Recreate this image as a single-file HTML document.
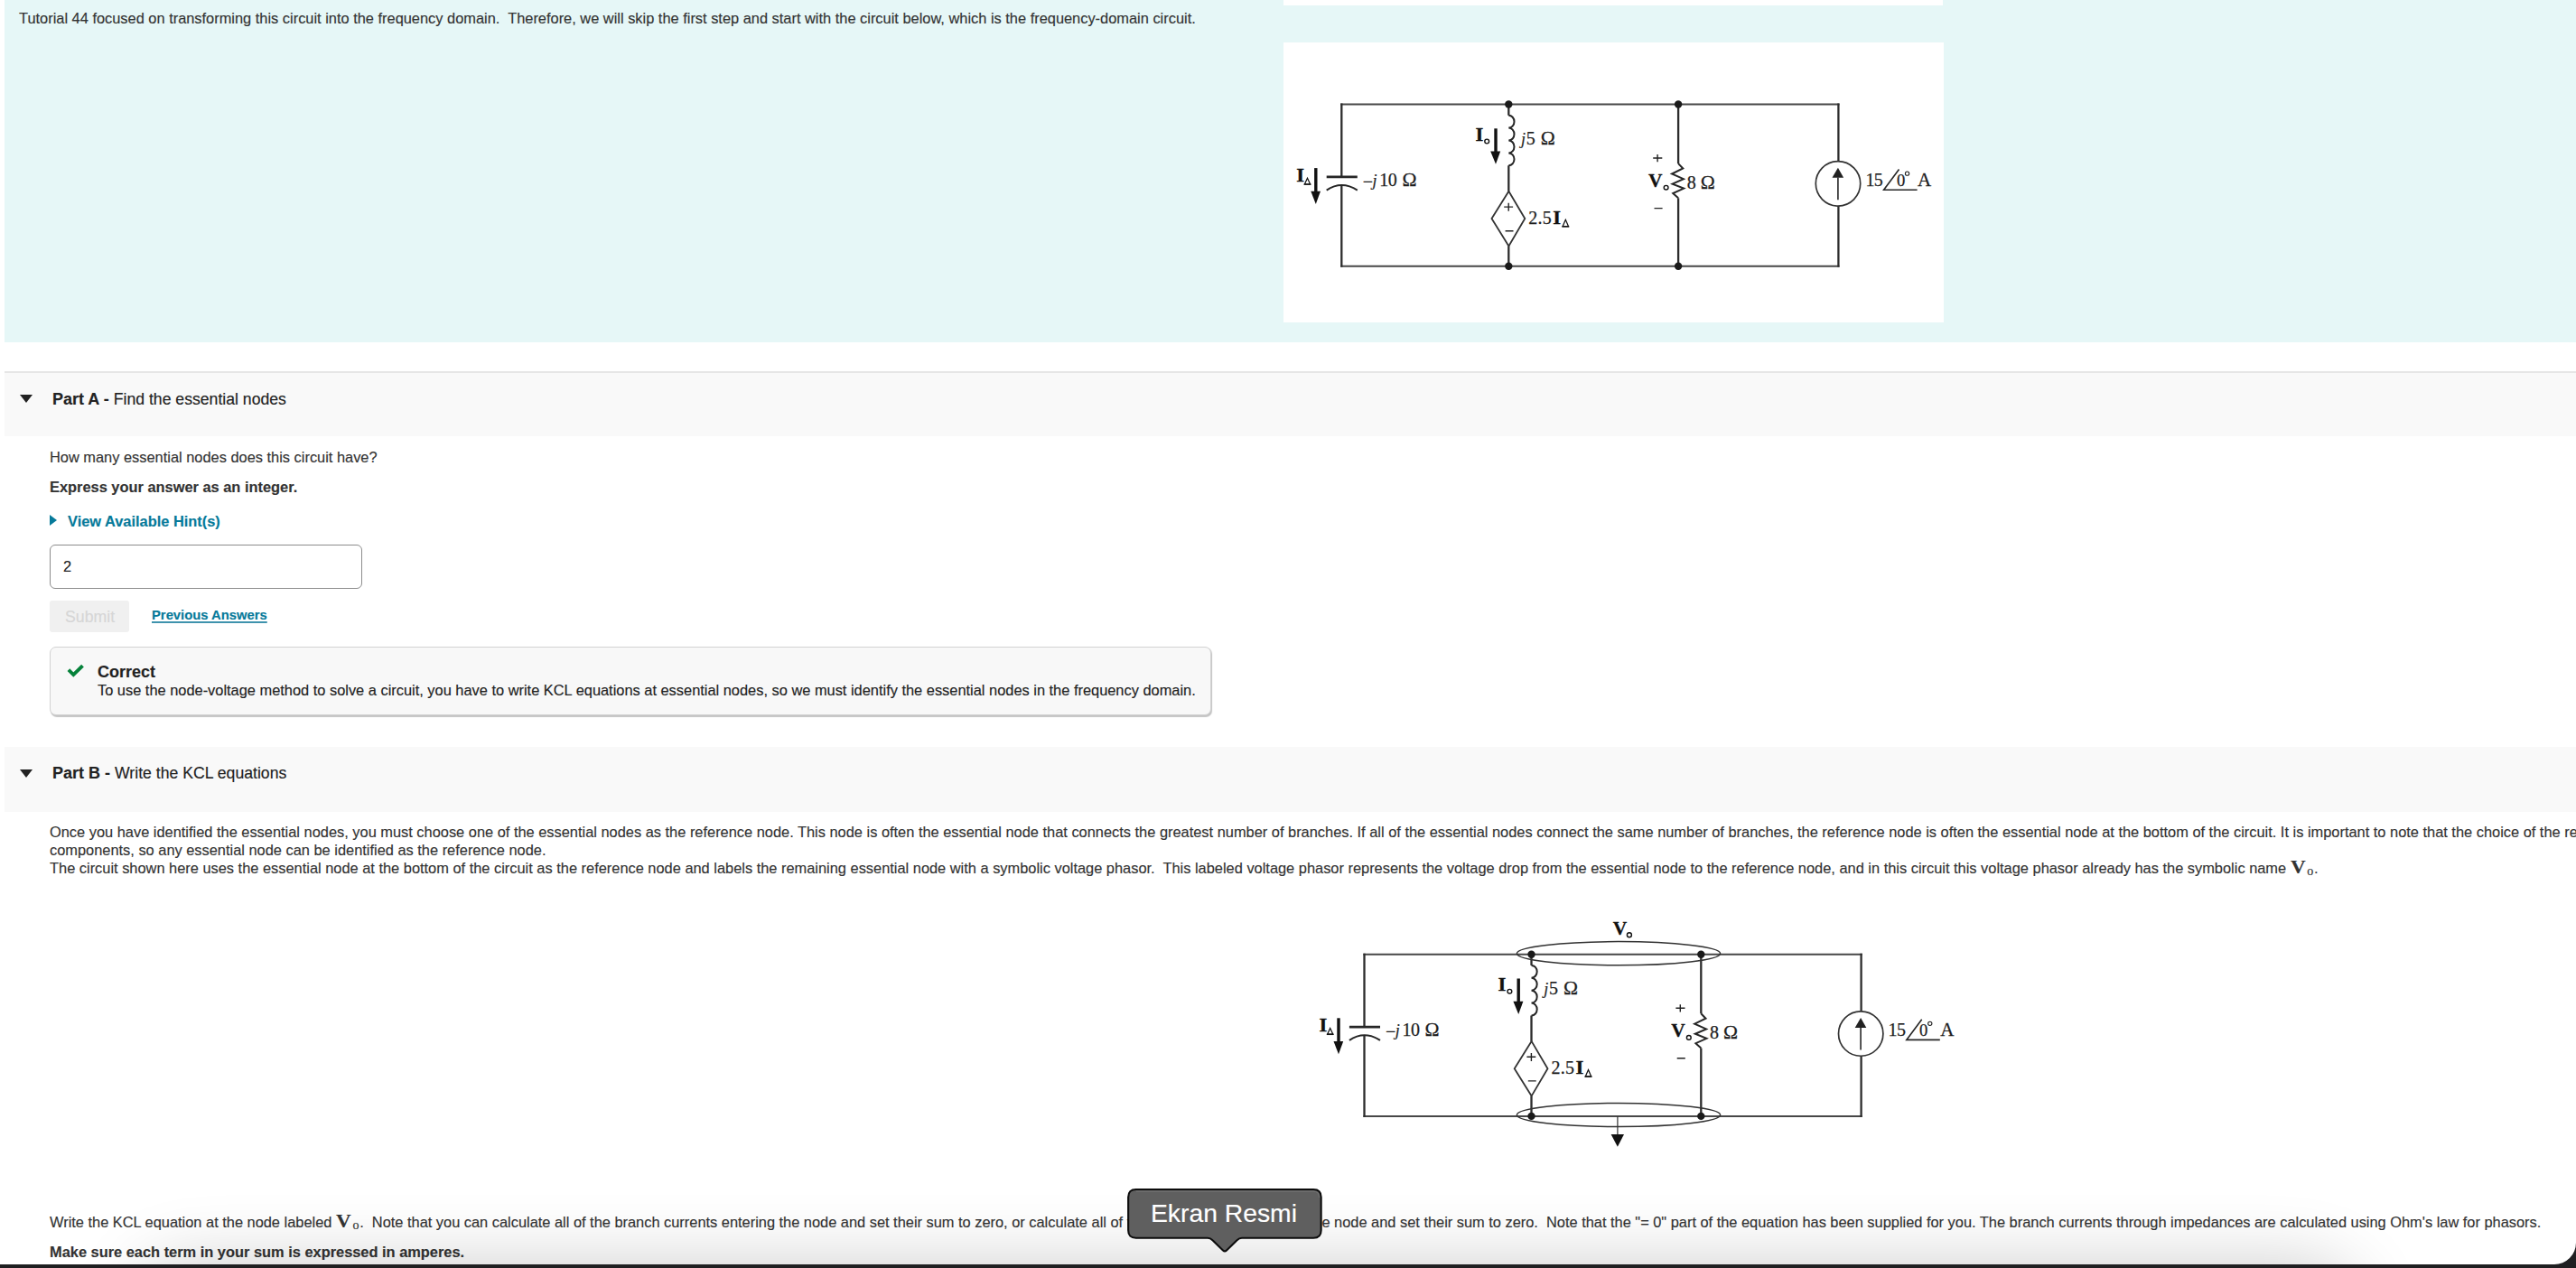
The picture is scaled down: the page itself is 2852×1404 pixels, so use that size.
<!DOCTYPE html>
<html><head><meta charset="utf-8">
<style>
html,body{margin:0;padding:0;width:2852px;height:1404px;overflow:hidden;background:#fff;}
body{position:relative;font-family:"Liberation Sans",sans-serif;color:#333;-webkit-text-stroke:0.15px currentColor;}
.a{position:absolute;white-space:nowrap;}
.t{font-size:16.4px;line-height:20px;}
.b{font-weight:bold;}
.teal{position:absolute;left:5px;top:0;width:2847px;height:379px;background:#e6f7f7;}
.hdr{position:absolute;left:5px;width:2847px;background:#f9f9f9;}
.tri{position:absolute;width:0;height:0;}
.lnk{color:#067a9a;}
svg{position:absolute;left:0;top:0;}
.m{display:inline-block;position:relative;width:26.3px;height:10px;line-height:0;vertical-align:baseline;}
.mv{position:absolute;left:0;bottom:6.7px;font-family:"Liberation Serif";font-weight:bold;font-size:21px;line-height:0;transform:scaleX(1.1);transform-origin:0 0;}
.mo{position:absolute;left:18.5px;bottom:2px;font-family:"Liberation Serif";font-size:14px;line-height:0;}
</style></head>
<body>
<div class="teal"></div>
<div class="a" style="left:1421px;top:0;width:730px;height:6px;background:#fff"></div>
<div class="a" style="left:1421px;top:47px;width:731px;height:310px;background:#fff"></div>

<div class="a t" style="left:21px;top:10px">Tutorial 44 focused on transforming this circuit into the frequency domain.&nbsp; Therefore, we will skip the first step and start with the circuit below, which is the frequency-domain circuit.</div>

<!-- Part A header -->
<div class="hdr" style="top:411px;height:72px;border-top:2px solid #e6e6e6;box-sizing:border-box"></div>
<div class="tri" style="left:22px;top:437px;border-left:7px solid transparent;border-right:7px solid transparent;border-top:9px solid #222"></div>
<div class="a" style="left:58px;top:431px;font-size:18px;line-height:22px;color:#222"><b>Part A -</b> <span style="font-size:17.65px">Find the essential nodes</span></div>

<div class="a t" style="left:55px;top:496px">How many essential nodes does this circuit have?</div>
<div class="a t b" style="left:55px;top:529px">Express your answer as an integer.</div>

<div class="tri" style="left:55px;top:569.5px;border-top:6.3px solid transparent;border-bottom:6.3px solid transparent;border-left:8px solid #067a9a"></div>
<div class="a t b lnk" style="left:75px;top:567px">View Available Hint(s)</div>

<div class="a" style="left:55px;top:603px;width:346px;height:49px;box-sizing:border-box;border:1.5px solid #8c8c8c;border-radius:6px;background:#fff"></div>
<div class="a t" style="left:70px;top:617px;color:#222">2</div>

<div class="a" style="left:55px;top:665px;width:88px;height:35px;background:#f0f0f0;border-radius:3px"></div>
<div class="a" style="left:72px;top:672px;font-size:17.7px;line-height:22px;color:#d6d6d6">Submit</div>
<div class="a b lnk" style="left:168px;top:672px;font-size:14.8px;line-height:18px;text-decoration:underline;text-decoration-color:#3f93ad;text-underline-offset:1.5px;text-decoration-thickness:1.5px">Previous Answers</div>

<!-- Correct box -->
<div class="a" style="left:55px;top:716px;width:1286px;height:76px;box-sizing:border-box;border:1px solid #d2d2d2;border-radius:7px;background:#f8f8f8;box-shadow:1px 1.5px 1px #c4c4c4"></div>
<svg width="2852" height="1404" style="pointer-events:none"><path d="M77.3 743.1 L81.3 747.1 L90.1 738.4" fill="none" stroke="#05823a" stroke-width="3.9" stroke-linecap="square" stroke-linejoin="miter"/></svg>
<div class="a" style="left:108px;top:734px;font-size:18px;line-height:20px;color:#222"><b>Correct</b></div>
<div class="a t" style="left:108px;top:754px;color:#222">To use the node-voltage method to solve a circuit, you have to write KCL equations at essential nodes, so we must identify the essential nodes in the frequency domain.</div>

<!-- Part B header -->
<div class="hdr" style="top:827px;height:72px"></div>
<div class="tri" style="left:22px;top:852px;border-left:7px solid transparent;border-right:7px solid transparent;border-top:9px solid #222"></div>
<div class="a" style="left:58px;top:845px;font-size:18px;line-height:22px;color:#222"><b>Part B -</b> <span style="font-size:17.65px">Write the KCL equations</span></div>

<div class="a t" style="left:55px;top:911px">Once you have identified the essential nodes, you must choose one of the essential nodes as the reference node. This node is often the essential node that connects the greatest number of branches. If all of the essential nodes connect the same number of branches, the reference node is often the essential node at the bottom of the circuit. It is important to note that the choice of the reference node does not affect the node voltages or the currents in the circuit.</div>
<div class="a t" style="left:55px;top:931px">components, so any essential node can be identified as the reference node.</div>
<div class="a t" style="left:55px;top:951px">The circuit shown here uses the essential node at the bottom of the circuit as the reference node and labels the remaining essential node with a symbolic voltage phasor.&nbsp; This labeled voltage phasor represents the voltage drop from the essential node to the reference node, and in this circuit this voltage phasor already has the symbolic name <span class="m"><span class="mv">V</span><span class="mo">o</span></span>.</div>

<div class="a t" style="left:55px;top:1343px;word-spacing:-0.025px">Write the KCL equation at the node labeled <span class="m"><span class="mv">V</span><span class="mo">o</span></span>.&nbsp; Note that you can calculate all of the branch currents entering the node and set their sum to zero, or calculate all of the branch currents leaving the node and set their sum to zero.&nbsp; Note that the "= 0" part of the equation has been supplied for you. The branch currents through impedances are calculated using Ohm's law for phasors.</div>
<div class="a t b" style="left:55px;top:1376px">Make sure each term in your sum is expressed in amperes.</div>

<!--CIRCUITS-->
<svg width="2852" height="1404" style="position:absolute;left:0;top:0;pointer-events:none">
<g fill="none" stroke="#474747" stroke-width="2">
<path d="M1484.2,115.5 H2036.5"/><path d="M1484.2,294.7 H2036.5"/>
</g>
<g fill="none" stroke="#2c2c2c" stroke-width="2.3">
<path d="M1485.3,114.5 V195.9"/><path d="M1485.3,205.3 V295.7"/><path d="M2035.4,114.5 V178.7"/><path d="M2035.4,228 V295.7"/>
<path d="M1670.3,115.5 V127.7"/><path d="M1670.3,183.3 V211.7"/><path d="M1670.3,272.4 V294.7"/>
<path d="M1858.1,115.5 V181.1"/><path d="M1858.1,219.3 V294.7"/>
</g>
<path d="M1468.7,195.9 H1502.8" stroke="#262626" stroke-width="2.8" fill="none"/>
<path d="M1468.7,210.6 Q1485.3,199.5 1502.8,210.6" stroke="#262626" stroke-width="2" fill="none"/>
<path d="M1670.3,127.7 a6.2,6.95 0 0 1 0,13.9 a6.2,6.95 0 0 1 0,13.9 a6.2,6.95 0 0 1 0,13.9 a6.2,6.95 0 0 1 0,13.9" stroke="#262626" stroke-width="2" fill="none"/>
<polyline points="1858.1,181.1 1863.3,186.5 1851,192.5 1863.9,198.2 1851.6,203.6 1864.2,208.6 1852.2,214 1858.1,219.3" stroke="#262626" stroke-width="2" fill="none" stroke-linejoin="miter"/>
<polygon points="1670.4,211.7 1688.3,242 1670.4,272.4 1651.5,242" stroke="#333" stroke-width="1.8" fill="none"/>
<path d="M1665.2,229.1 H1675.1 M1670.2,224.8 V233.7 M1666.6,255.7 H1675.5" stroke="#222" stroke-width="1.4" fill="none"/>
<path d="M1830.2,175 H1840.3 M1835.1,171 V179.3 M1831.5,230.6 H1840.6" stroke="#222" stroke-width="1.4" fill="none"/>
<circle cx="2035" cy="203.35" r="24.7" stroke="#333" stroke-width="1.7" fill="none"/>
<path d="M2034.9,196.5 V221.3" stroke="#333" stroke-width="1.7"/>
<polygon points="2028.5,196.8 2041.1,196.8 2034.9,185.7" fill="#222"/>
<polyline points="2102.5,187.5 2085.6,210.2 2122.6,210.2" stroke="#262626" stroke-width="1.6" fill="none"/>
<rect x="1455.1" y="186.1" width="3.4" height="26" fill="#111"/>
<polygon points="1451.3,211.7 1462,211.7 1456.8,226" fill="#111"/>
<rect x="1654.3" y="142.3" width="3.4" height="26" fill="#111"/>
<polygon points="1650.2,167.5 1661.2,167.5 1656,181.7" fill="#111"/>
<circle cx="1670.3" cy="115.5" r="4.2" fill="#1a1a1a"/>
<circle cx="1858.1" cy="115.5" r="4.2" fill="#1a1a1a"/>
<circle cx="1670.3" cy="294.7" r="4.2" fill="#1a1a1a"/>
<circle cx="1858.1" cy="294.7" r="4.2" fill="#1a1a1a"/>
<text x="1508.8" y="208" font-family="Liberation Serif" font-size="20" fill="#1e1e1e" stroke="#1e1e1e" stroke-width="0.25" >−</text>
<text x="1519.6" y="206.3" font-family="Liberation Serif" font-size="18" fill="#1e1e1e" stroke="#1e1e1e" stroke-width="0.2" font-style="italic">j</text>
<text x="1527.3" y="206" font-family="Liberation Serif" font-size="20" fill="#1e1e1e" stroke="#1e1e1e" stroke-width="0.25" >1</text>
<text x="1536.7" y="206" font-family="Liberation Serif" font-size="20" fill="#1e1e1e" stroke="#1e1e1e" stroke-width="0.25" >0</text>
<text transform="translate(1552.4,206) scale(1.08,1)" font-family="Liberation Serif" font-size="20" fill="#1e1e1e" stroke="#1e1e1e" stroke-width="0.25" >Ω</text>
<text x="1684" y="159.8" font-family="Liberation Serif" font-size="18" fill="#1e1e1e" stroke="#1e1e1e" stroke-width="0.2" font-style="italic">j</text>
<text x="1689.7" y="159.5" font-family="Liberation Serif" font-size="20" fill="#1e1e1e" stroke="#1e1e1e" stroke-width="0.25" >5</text>
<text transform="translate(1705.8,159.5) scale(1.08,1)" font-family="Liberation Serif" font-size="20" fill="#1e1e1e" stroke="#1e1e1e" stroke-width="0.25" >Ω</text>
<text x="1867.7" y="208.7" font-family="Liberation Serif" font-size="20" fill="#1e1e1e" stroke="#1e1e1e" stroke-width="0.25" >8</text>
<text transform="translate(1882.7,208.7) scale(1.08,1)" font-family="Liberation Serif" font-size="20" fill="#1e1e1e" stroke="#1e1e1e" stroke-width="0.25" >Ω</text>
<text x="1692.2" y="247.7" font-family="Liberation Serif" font-size="20" fill="#1e1e1e" stroke="#1e1e1e" stroke-width="0.25" >2</text>
<text x="1702.5" y="247.7" font-family="Liberation Serif" font-size="20" fill="#1e1e1e" stroke="#1e1e1e" stroke-width="0.25" >.</text>
<text x="1707.8" y="247.7" font-family="Liberation Serif" font-size="20" fill="#1e1e1e" stroke="#1e1e1e" stroke-width="0.25" >5</text>
<text transform="translate(1719.2,247.7) scale(1.08,1)" font-family="Liberation Serif" font-size="21" font-weight="bold" fill="#111" stroke="#111" stroke-width="0.3" >I</text>
<text x="2065.4" y="206.2" font-family="Liberation Serif" font-size="20" fill="#1e1e1e" stroke="#1e1e1e" stroke-width="0.25" >1</text>
<text x="2074.7" y="206.2" font-family="Liberation Serif" font-size="20" fill="#1e1e1e" stroke="#1e1e1e" stroke-width="0.25" >5</text>
<text x="2099.9" y="206" font-family="Liberation Serif" font-size="18.6" fill="#1e1e1e" stroke="#1e1e1e" stroke-width="0.25" >0</text>
<text transform="translate(2123,206) scale(1.05,1)" font-family="Liberation Serif" font-size="20" fill="#1e1e1e" stroke="#1e1e1e" stroke-width="0.25" >A</text>
<circle cx="2111.55" cy="192.15" r="2.15" stroke="#222" stroke-width="1.1" fill="none"/>
<text transform="translate(1435.2,201.1) scale(1.08,1)" font-family="Liberation Serif" font-size="21" font-weight="bold" fill="#111" stroke="#111" stroke-width="0.3" >I</text>
<text transform="translate(1633.4,156.1) scale(1.08,1)" font-family="Liberation Serif" font-size="21" font-weight="bold" fill="#111" stroke="#111" stroke-width="0.3" >I</text>
<text transform="translate(1825.1,207.1) scale(1.02,1)" font-family="Liberation Serif" font-size="21" font-weight="bold" fill="#111" stroke="#111" stroke-width="0.3" >V</text>
<ellipse cx="1646.2" cy="156.5" rx="2.4" ry="2.35" stroke="#111" stroke-width="1.4" fill="none"/>
<ellipse cx="1844.6" cy="207.7" rx="2.4" ry="2.35" stroke="#111" stroke-width="1.4" fill="none"/>
<polygon points="1447.5,197.29999999999998 1450.6,204.0 1444.4,204.0" stroke="#111" stroke-width="1.2" fill="none"/>
<path d="M1443.7,204.10000000000002 H1451.3" stroke="#111" stroke-width="1.5"/>
<polygon points="1733.3000000000002,243.29999999999998 1736.5,250.7 1730.1000000000001,250.7" stroke="#111" stroke-width="1.2" fill="none"/>
<path d="M1729.4,250.8 H1737.2" stroke="#111" stroke-width="1.5"/>
<g transform="translate(25.2,941.2)">
<g fill="none" stroke="#474747" stroke-width="2">
<path d="M1484.2,115.5 H2036.5"/><path d="M1484.2,294.7 H2036.5"/>
</g>
<g fill="none" stroke="#2c2c2c" stroke-width="2.3">
<path d="M1485.3,114.5 V195.9"/><path d="M1485.3,205.3 V295.7"/><path d="M2035.4,114.5 V178.7"/><path d="M2035.4,228 V295.7"/>
<path d="M1670.3,115.5 V127.7"/><path d="M1670.3,183.3 V211.7"/><path d="M1670.3,272.4 V294.7"/>
<path d="M1858.1,115.5 V181.1"/><path d="M1858.1,219.3 V294.7"/>
</g>
<path d="M1468.7,195.9 H1502.8" stroke="#262626" stroke-width="2.8" fill="none"/>
<path d="M1468.7,210.6 Q1485.3,199.5 1502.8,210.6" stroke="#262626" stroke-width="2" fill="none"/>
<path d="M1670.3,127.7 a6.2,6.95 0 0 1 0,13.9 a6.2,6.95 0 0 1 0,13.9 a6.2,6.95 0 0 1 0,13.9 a6.2,6.95 0 0 1 0,13.9" stroke="#262626" stroke-width="2" fill="none"/>
<polyline points="1858.1,181.1 1863.3,186.5 1851,192.5 1863.9,198.2 1851.6,203.6 1864.2,208.6 1852.2,214 1858.1,219.3" stroke="#262626" stroke-width="2" fill="none" stroke-linejoin="miter"/>
<polygon points="1670.4,211.7 1688.3,242 1670.4,272.4 1651.5,242" stroke="#333" stroke-width="1.8" fill="none"/>
<path d="M1665.2,229.1 H1675.1 M1670.2,224.8 V233.7 M1666.6,255.7 H1675.5" stroke="#222" stroke-width="1.4" fill="none"/>
<path d="M1830.2,175 H1840.3 M1835.1,171 V179.3 M1831.5,230.6 H1840.6" stroke="#222" stroke-width="1.4" fill="none"/>
<circle cx="2035" cy="203.35" r="24.7" stroke="#333" stroke-width="1.7" fill="none"/>
<path d="M2034.9,196.5 V221.3" stroke="#333" stroke-width="1.7"/>
<polygon points="2028.5,196.8 2041.1,196.8 2034.9,185.7" fill="#222"/>
<polyline points="2102.5,187.5 2085.6,210.2 2122.6,210.2" stroke="#262626" stroke-width="1.6" fill="none"/>
<rect x="1455.1" y="186.1" width="3.4" height="26" fill="#111"/>
<polygon points="1451.3,211.7 1462,211.7 1456.8,226" fill="#111"/>
<rect x="1654.3" y="142.3" width="3.4" height="26" fill="#111"/>
<polygon points="1650.2,167.5 1661.2,167.5 1656,181.7" fill="#111"/>
<circle cx="1670.3" cy="115.5" r="4.2" fill="#1a1a1a"/>
<circle cx="1858.1" cy="115.5" r="4.2" fill="#1a1a1a"/>
<circle cx="1670.3" cy="294.7" r="4.2" fill="#1a1a1a"/>
<circle cx="1858.1" cy="294.7" r="4.2" fill="#1a1a1a"/>
<text x="1508.8" y="208" font-family="Liberation Serif" font-size="20" fill="#1e1e1e" stroke="#1e1e1e" stroke-width="0.25" >−</text>
<text x="1519.6" y="206.3" font-family="Liberation Serif" font-size="18" fill="#1e1e1e" stroke="#1e1e1e" stroke-width="0.2" font-style="italic">j</text>
<text x="1527.3" y="206" font-family="Liberation Serif" font-size="20" fill="#1e1e1e" stroke="#1e1e1e" stroke-width="0.25" >1</text>
<text x="1536.7" y="206" font-family="Liberation Serif" font-size="20" fill="#1e1e1e" stroke="#1e1e1e" stroke-width="0.25" >0</text>
<text transform="translate(1552.4,206) scale(1.08,1)" font-family="Liberation Serif" font-size="20" fill="#1e1e1e" stroke="#1e1e1e" stroke-width="0.25" >Ω</text>
<text x="1684" y="159.8" font-family="Liberation Serif" font-size="18" fill="#1e1e1e" stroke="#1e1e1e" stroke-width="0.2" font-style="italic">j</text>
<text x="1689.7" y="159.5" font-family="Liberation Serif" font-size="20" fill="#1e1e1e" stroke="#1e1e1e" stroke-width="0.25" >5</text>
<text transform="translate(1705.8,159.5) scale(1.08,1)" font-family="Liberation Serif" font-size="20" fill="#1e1e1e" stroke="#1e1e1e" stroke-width="0.25" >Ω</text>
<text x="1867.7" y="208.7" font-family="Liberation Serif" font-size="20" fill="#1e1e1e" stroke="#1e1e1e" stroke-width="0.25" >8</text>
<text transform="translate(1882.7,208.7) scale(1.08,1)" font-family="Liberation Serif" font-size="20" fill="#1e1e1e" stroke="#1e1e1e" stroke-width="0.25" >Ω</text>
<text x="1692.2" y="247.7" font-family="Liberation Serif" font-size="20" fill="#1e1e1e" stroke="#1e1e1e" stroke-width="0.25" >2</text>
<text x="1702.5" y="247.7" font-family="Liberation Serif" font-size="20" fill="#1e1e1e" stroke="#1e1e1e" stroke-width="0.25" >.</text>
<text x="1707.8" y="247.7" font-family="Liberation Serif" font-size="20" fill="#1e1e1e" stroke="#1e1e1e" stroke-width="0.25" >5</text>
<text transform="translate(1719.2,247.7) scale(1.08,1)" font-family="Liberation Serif" font-size="21" font-weight="bold" fill="#111" stroke="#111" stroke-width="0.3" >I</text>
<text x="2065.4" y="206.2" font-family="Liberation Serif" font-size="20" fill="#1e1e1e" stroke="#1e1e1e" stroke-width="0.25" >1</text>
<text x="2074.7" y="206.2" font-family="Liberation Serif" font-size="20" fill="#1e1e1e" stroke="#1e1e1e" stroke-width="0.25" >5</text>
<text x="2099.9" y="206" font-family="Liberation Serif" font-size="18.6" fill="#1e1e1e" stroke="#1e1e1e" stroke-width="0.25" >0</text>
<text transform="translate(2123,206) scale(1.05,1)" font-family="Liberation Serif" font-size="20" fill="#1e1e1e" stroke="#1e1e1e" stroke-width="0.25" >A</text>
<circle cx="2111.55" cy="192.15" r="2.15" stroke="#222" stroke-width="1.1" fill="none"/>
<text transform="translate(1435.2,201.1) scale(1.08,1)" font-family="Liberation Serif" font-size="21" font-weight="bold" fill="#111" stroke="#111" stroke-width="0.3" >I</text>
<text transform="translate(1633.4,156.1) scale(1.08,1)" font-family="Liberation Serif" font-size="21" font-weight="bold" fill="#111" stroke="#111" stroke-width="0.3" >I</text>
<text transform="translate(1825.1,207.1) scale(1.02,1)" font-family="Liberation Serif" font-size="21" font-weight="bold" fill="#111" stroke="#111" stroke-width="0.3" >V</text>
<ellipse cx="1646.2" cy="156.5" rx="2.4" ry="2.35" stroke="#111" stroke-width="1.4" fill="none"/>
<ellipse cx="1844.6" cy="207.7" rx="2.4" ry="2.35" stroke="#111" stroke-width="1.4" fill="none"/>
<polygon points="1447.5,197.29999999999998 1450.6,204.0 1444.4,204.0" stroke="#111" stroke-width="1.2" fill="none"/>
<path d="M1443.7,204.10000000000002 H1451.3" stroke="#111" stroke-width="1.5"/>
<polygon points="1733.3000000000002,243.29999999999998 1736.5,250.7 1730.1000000000001,250.7" stroke="#111" stroke-width="1.2" fill="none"/>
<path d="M1729.4,250.8 H1737.2" stroke="#111" stroke-width="1.5"/>
</g>
<ellipse cx="1792" cy="1055.7" rx="112.6" ry="13.1" stroke="#333" stroke-width="1.5" fill="none"/>
<ellipse cx="1792" cy="1234.5" rx="112.6" ry="13.1" stroke="#333" stroke-width="1.5" fill="none"/>
<text transform="translate(1785.8,1035.4) scale(1.02,1)" font-family="Liberation Serif" font-size="21" font-weight="bold" fill="#111" stroke="#111" stroke-width="0.3">V</text>
<ellipse cx="1803.9" cy="1035.3" rx="2.5" ry="2.5" stroke="#111" stroke-width="1.4" fill="none"/>
<path d="M1790.9,1236 V1257" stroke="#333" stroke-width="1.2"/>
<polygon points="1783.6,1256 1798,1256 1790.9,1269.8" fill="#111"/>
</svg>
<!--BOTTOM-->
<div style="position:absolute;left:0;top:1290px;width:2852px;height:114px;overflow:hidden;pointer-events:none">
  <div style="position:absolute;left:180px;top:140px;width:2400px;height:60px;border-radius:30px;box-shadow:0 0 80px 30px rgba(0,0,0,0.2)"></div>
</div>
<div style="position:absolute;left:0;top:1400px;width:2852px;height:4px;background:#1f1f21"></div>
<svg width="30" height="30" style="position:absolute;left:2828px;top:1376px"><path d="M24,0 V24 H0 A24,24 0 0 0 24,0 Z" fill="#1f1f21"/></svg>
<!-- tooltip -->
<svg width="240" height="90" style="position:absolute;left:1236px;top:1305px;overflow:visible">
  <path d="M21.65,12.05 H218.15 Q226.65,12.05 226.65,20.55 V57.25 Q226.65,65.75 218.15,65.75 H139 Q136,65.75 133.5,68.3 L122,79.5 Q120,81.4 118,79.5 L106.5,68.3 Q104,65.75 101,65.75 H21.65 Q13.15,65.75 13.15,57.25 V20.55 Q13.15,12.05 21.65,12.05 Z" fill="#5f5f5f" stroke="#0c0c0c" stroke-width="2.1"/>
  <path d="M22,14.1 H217.8 Q224.6,14.1 224.6,20.9" fill="none" stroke="#767676" stroke-width="1"/>
</svg>
<div class="a" style="left:1274px;top:1325px;font-size:28.3px;line-height:36px;color:#fff">Ekran Resmi</div>

</body></html>
